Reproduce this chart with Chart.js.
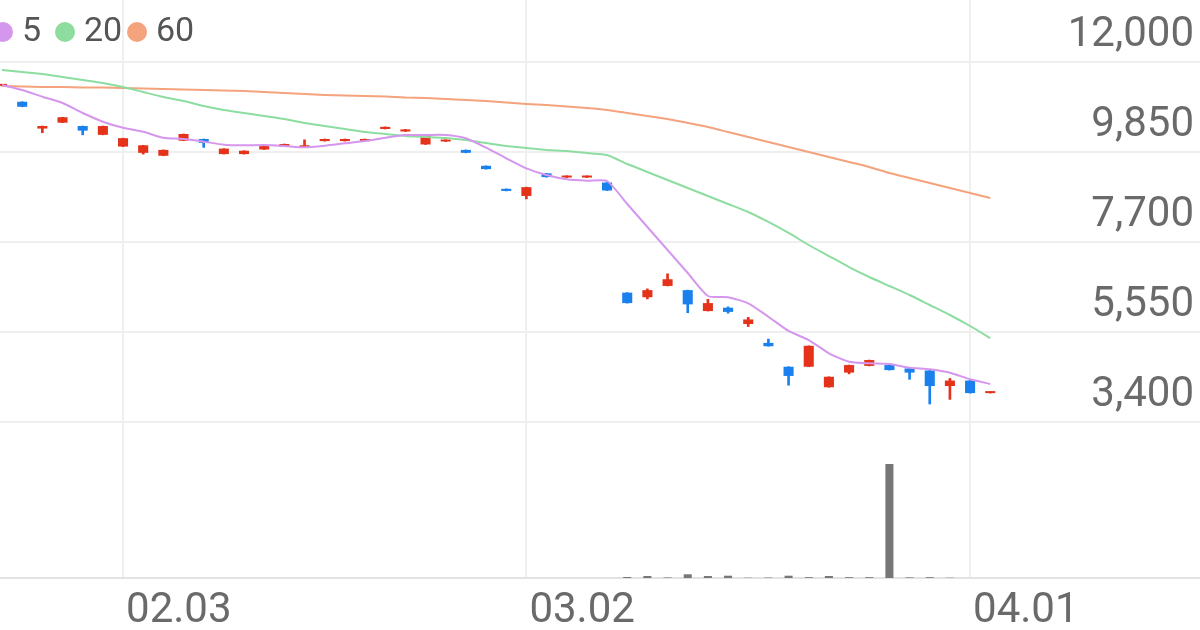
<!DOCTYPE html>
<html>
<head>
<meta charset="utf-8">
<script src="https://cdn.jsdelivr.net/npm/chart.js@4/dist/chart.umd.min.js"></script>
<style>
  html, body { margin: 0; padding: 0; background: #fff; }
  #wrap { width: 1200px; height: 630px; }
</style>
</head>
<body>
<div id="wrap"><canvas id="chart" width="1200" height="630"></canvas></div>
<script>
"use strict";
// x axis: one slot per trading day, only month starts get a label
const xTickIdx = [6, 26, 48];
const xTickLabels = ['02.03', '03.02', '04.01'];
const priceTicks = [3400, 5550, 7700, 9850, 12000];

// daily candles
const open  = [11430, 11050, 10410, 10550, 10470, 10260, 9980, 9830, 9760, 10120,
               10160, 9800, 9800, 9910, 9980, 9960, 10110, 10110, 10110, 10400,
               10340, 10030, 10100, 9900, 9520, 8970, 8800, 9340, 9240, 9240,
               9120, 6490, 6380, 6650, 6550, 6050, 6130, 5740, 5290, 4720,
               4720, 4230, 4580, 4740, 4760, 4680, 4630, 4260, 4390, 4090];
const high  = [11460, 11050, 10470, 10680, 10470, 10470, 10180, 10010, 9900, 10280,
               10160, 9930, 9880, 9990, 10040, 10140, 10160, 10160, 10160, 10450,
               10390, 10240, 10140, 9900, 9520, 8970, 9010, 9340, 9280, 9280,
               9120, 6490, 6580, 6940, 6550, 6330, 6150, 5900, 5380, 4720,
               5220, 4480, 4760, 4880, 4800, 4680, 4630, 4440, 4390, 4120];
const low   = [11430, 10930, 10310, 10550, 10260, 10260, 9980, 9800, 9760, 10120,
               9960, 9800, 9800, 9910, 9980, 9960, 10110, 10110, 10110, 10400,
               10340, 10030, 10100, 9830, 9440, 8920, 8730, 9250, 9240, 9240,
               8930, 6240, 6340, 6650, 6010, 6050, 6000, 5680, 5210, 4280,
               4720, 4230, 4550, 4740, 4640, 4420, 3830, 3940, 4090, 4090];
const close = [11460, 10930, 10470, 10680, 10360, 10470, 10180, 10010, 9900, 10280,
               10070, 9930, 9880, 9990, 10040, 10010, 10160, 10160, 10160, 10450,
               10390, 10240, 10140, 9830, 9440, 8920, 9010, 9250, 9280, 9280,
               8930, 6240, 6550, 6810, 6210, 6240, 6030, 5850, 5210, 4500,
               5220, 4480, 4760, 4880, 4640, 4580, 4260, 4390, 4090, 4120];

// moving averages
const ma5  = [11450, 11331, 11171, 11020, 10782, 10574, 10430, 10335, 10191, 10161,
              10097, 10025, 10010, 10018, 9994, 9963, 10001, 10058, 10113, 10191,
              10256, 10256, 10256, 10177, 9953, 9700, 9460, 9300, 9198, 9164,
              9157, 8608, 8058, 7509, 6959, 6410, 6379, 6235, 5915, 5574,
              5358, 5041, 4840, 4802, 4785, 4697, 4659, 4578, 4420, 4308];
const ma20 = [11809, 11761, 11713, 11642, 11570, 11498, 11403, 11283, 11164, 11069,
              10949, 10853, 10782, 10710, 10638, 10543, 10471, 10399, 10328, 10280,
              10232, 10208, 10184, 10137, 10065, 9994, 9946, 9898, 9874, 9826,
              9778, 9563, 9372, 9181, 8990, 8799, 8608, 8417, 8178, 7915,
              7628, 7365, 7102, 6864, 6649, 6434, 6195, 5956, 5693, 5406];
const ma60 = [11427, 11415, 11403, 11403, 11391, 11391, 11379, 11367, 11355, 11343,
              11331, 11319, 11307, 11283, 11259, 11236, 11212, 11200, 11188, 11176,
              11152, 11140, 11116, 11092, 11068, 11032, 10997, 10973, 10937, 10901,
              10853, 10782, 10710, 10638, 10543, 10447, 10328, 10208, 10089, 9970,
              9850, 9731, 9611, 9492, 9348, 9229, 9110, 8990, 8871, 8751];

// volume (thousands)
const volume = [0, 0, 0, 0, 0, 0, 0, 0, 0, 0,
                0, 0, 0, 0, 0, 0, 0, 0, 0, 0,
                0, 0, 0, 0, 0, 0, 0, 0, 0, 0,
                0, 10, 20, 5, 37, 20, 23, 3, 4, 23,
                8, 20, 8, 8, 1140, 6, 8, 3, 0, 0];

const maLabels = ['5', '20', '60'];
const maColors = ['#d596ee', '#8ddda1', '#f4a37d'];

const UP = '#e5321a';
const DOWN = '#1a80ee';
const LABEL_COLOR = '#6a6a6a';
const GRID_COLOR = '#efefef';

let candleColors = [];
for(let i = 0; i < open.length; i++){
  candleColors.push(close[i] >= open[i] ? UP : DOWN);
}

function pts(arr){
  return arr.map((v, i) => ({x: i, y: v}));
}

// legend drawn in the top left corner over the plot
const legendDotX = [3, 65, 137];
const maLegend = {
  id: 'maLegend',
  afterDraw(chart){
    const ctx = chart.ctx;
    ctx.save();
    ctx.font = '34px Roboto';
    ctx.textBaseline = 'middle';
    ctx.textAlign = 'left';
    for(let i = 0; i < maLabels.length; i++){
      ctx.fillStyle = maColors[i];
      ctx.beginPath();
      ctx.arc(legendDotX[i], 32, 10, 0, Math.PI * 2);
      ctx.fill();
      ctx.fillStyle = '#555';
      ctx.fillText(maLabels[i], legendDotX[i] + 19, 32);
    }
    ctx.restore();
  }
};

const datasets = [
  { type: 'line', label: 'MA5', data: pts(ma5), borderColor: maColors[0], borderWidth: 2,
    pointRadius: 0, tension: 0.2, yAxisID: 'y', order: 1 },
  { type: 'line', label: 'MA20', data: pts(ma20), borderColor: maColors[1], borderWidth: 2,
    pointRadius: 0, tension: 0.2, yAxisID: 'y', order: 1 },
  { type: 'line', label: 'MA60', data: pts(ma60), borderColor: maColors[2], borderWidth: 2,
    pointRadius: 0, tension: 0.2, yAxisID: 'y', order: 1 },
  { type: 'bar', label: 'body', data: open.map((o, i) => ({x: i, y: [o, close[i]]})),
    backgroundColor: candleColors, grouped: false, categoryPercentage: 1, barPercentage: 0.5,
    minBarLength: 2, yAxisID: 'y', order: 2 },
  { type: 'bar', label: 'wick', data: low.map((l, i) => ({x: i, y: [l, high[i]]})),
    backgroundColor: candleColors, grouped: false, categoryPercentage: 1, barPercentage: 1,
    maxBarThickness: 2, yAxisID: 'y', order: 3 },
  { type: 'bar', label: 'volume', data: pts(volume),
    backgroundColor: '#777777', grouped: false, categoryPercentage: 1, barPercentage: 0.4,
    yAxisID: 'yv', order: 4 }
];

new Chart(document.getElementById('chart'), {
  type: 'bar',
  data: { datasets: datasets },
  plugins: [maLegend],
  options: {
    responsive: false,
    animation: false,
    devicePixelRatio: 1,
    layout: { padding: 0 },
    plugins: { legend: { display: false }, tooltip: { enabled: false } },
    scales: {
      x: {
        type: 'linear',
        min: -0.1,
        max: 59.4,
        offset: false,
        grid: { color: GRID_COLOR, lineWidth: 2, drawTicks: false, offset: false },
        border: { display: true, color: '#e2e2e2', width: 2 },
        ticks: {
          align: 'start',
          padding: 8,
          labelOffset: 3,
          maxRotation: 0,
          autoSkip: false,
          color: LABEL_COLOR,
          font: { family: 'Roboto', size: 42 },
          callback: (v) => {
            let k = xTickIdx.indexOf(v);
            return k == -1 ? '' : xTickLabels[k];
          }
        },
        afterBuildTicks: (s) => { s.ticks = xTickIdx.map(v => ({value: v})); },
        afterFit: (s) => { s.height = 52; s.paddingLeft = 0; s.paddingRight = 0; }
      },
      y: {
        position: 'right',
        min: -327,
        max: 13481,
        grid: { color: GRID_COLOR, lineWidth: 2, drawTicks: false },
        border: { display: false },
        ticks: {
          mirror: true,
          crossAlign: 'near',
          padding: -6,
          labelOffset: -26,
          color: LABEL_COLOR,
          font: { family: 'Roboto', size: 42 },
          callback: (v) => v.toLocaleString('en-US')
        },
        afterBuildTicks: (s) => { s.ticks = priceTicks.map(v => ({value: v})); },
        afterFit: (s) => { s.width = 0; s.paddingTop = 0; s.paddingBottom = 0; }
      },
      yv: {
        display: false,
        min: 0,
        max: 5780
      }
    }
  }
});
</script>
</body>
</html>
